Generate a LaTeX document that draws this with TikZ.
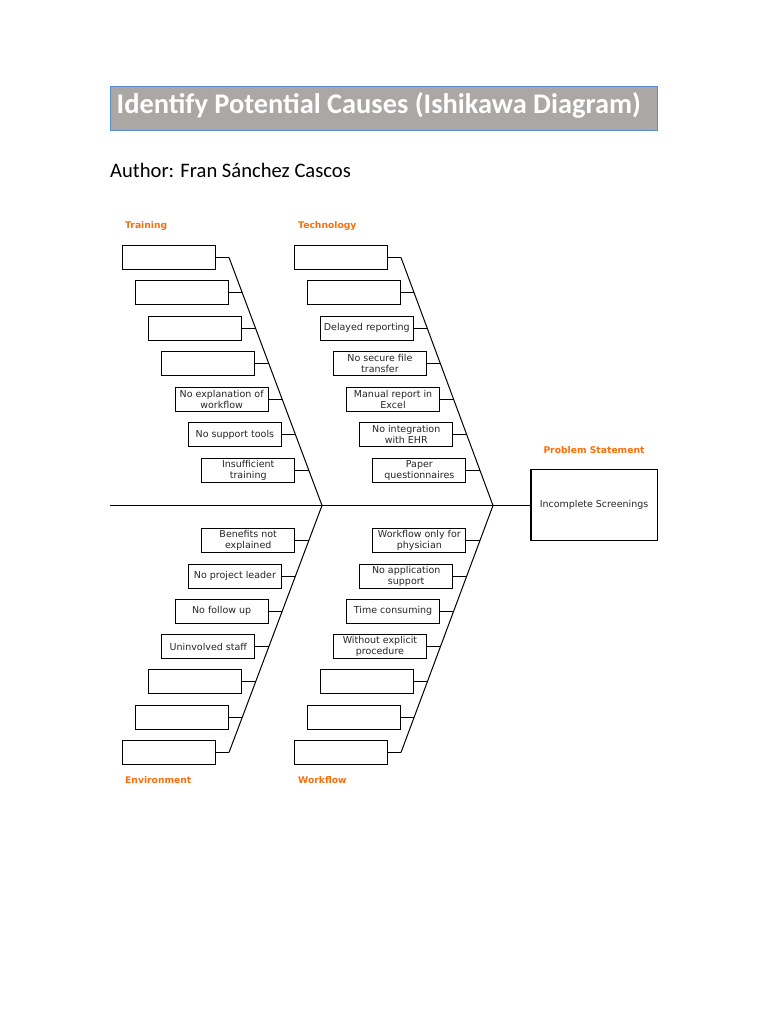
\documentclass[tikz,border=0pt]{standalone}
\usepackage{fontspec}
\setmainfont{Carlito}
\newfontfamily\dv{DejaVu Sans}
\usetikzlibrary{calc}
\definecolor{titlegray}{RGB}{171,167,165}
\definecolor{titleblue}{RGB}{90,140,210}
\definecolor{lblorange}{RGB}{255,110,10}
\tikzset{
  cause/.style={draw=black, line width=1pt, minimum width=93pt, minimum height=24pt, inner sep=0.5pt, align=center, font=\dv\fontsize{9.5}{11}\selectfont, anchor=east, text=black!85},
  bone/.style={line width=1pt},
  cat/.style={font=\dv\bfseries\fontsize{9.2}{10}\selectfont, text=lblorange, anchor=west, inner sep=0pt},
}
\begin{document}
\begin{tikzpicture}[x=1pt,y=-1pt]
\useasboundingbox[fill=white] (0,0) rectangle (768,1024);
% title
\node[draw=titleblue, line width=0.8pt, fill=titlegray, minimum width=547pt, minimum height=44pt, inner sep=0pt] (titlebox) at (383.5,108) {};
\node[anchor=base west, inner sep=0pt, text=white, font=\bfseries\fontsize{28.4}{32}\selectfont] (title) at (116.5,113.5) {Identify Potential Causes (Ishikawa Diagram)};
\node[anchor=base west, inner sep=0pt, font=\fontsize{20.6}{24}\selectfont] (author) at (110,177.5) {Author: Fran Sánchez Cascos};
% problem box
\node[draw=black, line width=1pt, minimum width=126pt, minimum height=71pt, inner sep=0pt, font=\dv\fontsize{9.5}{11}\selectfont, text=black!85] (ps) at (594,504.5) {Incomplete Screenings};
\draw[line width=2pt] (ps.north west) -- (ps.south west);
\node[cat, anchor=center] (pslabel) at (594,450.5) {Problem Statement};
% spine
\coordinate (spL) at (110,505.5);
\coordinate (sp1) at (322,505.5);
\coordinate (sp2) at (493,505.5);
\draw[bone] (spL) -- (ps.west |- spL);
% tips
\coordinate (tTr) at (229,257.5);
\coordinate (tTe) at (401,257.5);
\coordinate (tEn) at (229,752.5);
\coordinate (tWo) at (401,752.5);
\draw[bone] (tTr) -- (sp1);
\draw[bone] (tTe) -- (sp2);
\draw[bone] (tEn) -- (sp1);
\draw[bone] (tWo) -- (sp2);
% category labels
\node[cat] (lTr) at (125,226) {Training};
\node[cat] (lTe) at (298,226) {Technology};
\node[cat] (lEn) at (125,780) {Environment};
\node[cat] (lWo) at (298,780) {Workflow};
% causes
\foreach \k/\t in {0/{},1/{},2/{},3/{},4/{No explanation of\\workflow},5/{No support tools},6/{Insufficient\\training}}{
  \coordinate (cTr\k) at ($(tTr)!\k/7!(sp1)$);
  \node[cause] (bTr\k) at ($(cTr\k)+(-13.5,0)$) {\t};
  \draw[bone] (bTr\k.east) -- (cTr\k);
}
\foreach \k/\t in {0/{},1/{},2/{Delayed reporting},3/{No secure file\\transfer},4/{Manual report in\\Excel},5/{No integration\\with EHR},6/{Paper\\questionnaires}}{
  \coordinate (cTe\k) at ($(tTe)!\k/7!(sp2)$);
  \node[cause] (bTe\k) at ($(cTe\k)+(-13.5,0)$) {\t};
  \draw[bone] (bTe\k.east) -- (cTe\k);
}
\foreach \k/\t in {0/{},1/{},2/{},3/{Uninvolved staff},4/{No follow up},5/{No project leader},6/{Benefits not\\explained}}{
  \coordinate (cEn\k) at ($(tEn)!\k/7!(sp1)$);
  \node[cause] (bEn\k) at ($(cEn\k)+(-13.5,0)$) {\t};
  \draw[bone] (bEn\k.east) -- (cEn\k);
}
\foreach \k/\t in {0/{},1/{},2/{},3/{Without explicit\\procedure},4/{Time consuming},5/{No application\\support},6/{Workflow only for\\physician}}{
  \coordinate (cWo\k) at ($(tWo)!\k/7!(sp2)$);
  \node[cause] (bWo\k) at ($(cWo\k)+(-13.5,0)$) {\t};
  \draw[bone] (bWo\k.east) -- (cWo\k);
}
\end{tikzpicture}
\end{document}
